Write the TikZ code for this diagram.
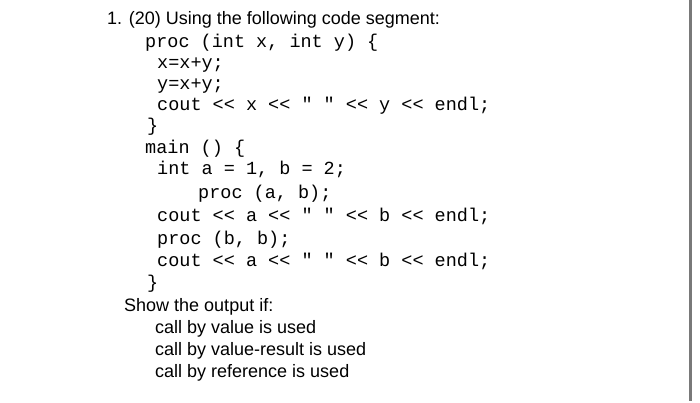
\documentclass[tikz,border=0pt]{standalone}
\usepackage{fontspec}
\setmainfont{Liberation Sans}
\setmonofont{Liberation Mono}
\begin{document}
\begin{tikzpicture}[x=1pt,y=-1pt,
  prose/.style={anchor=base west,inner sep=0pt,font=\fontsize{18}{20}\selectfont},
  code/.style={anchor=base west,inner sep=0pt,font=\fontsize{18.5}{20}\ttfamily}]
\useasboundingbox (0,0) rectangle (700,403);
\fill[gray!95!black] (689,0) rectangle (692,401);
\node[prose] (t1) at (107,25) {1. (20) Using the following code segment:};
\node[code] (c1) at (145,48) {proc (int x, int y) \{};
\node[code] (c2) at (157,69) {x=x+y;};
\node[code] (c3) at (157,90) {y=x+y;};
\node[code] (c4) at (157,111) {cout << x << "{} " << y << endl;};
\node[code] (c5) at (147,132) {\}};
\node[code] (c6) at (145,154) {main () \{};
\node[code] (c7) at (157,175) {int a = 1, b = 2;};
\node[code] (c8) at (198,198) {proc (a, b);};
\node[code] (c9) at (157,221) {cout << a << "{} " << b << endl;};
\node[code] (c10) at (157,244) {proc (b, b);};
\node[code] (c11) at (157,266) {cout << a << "{} " << b << endl;};
\node[code] (c12) at (147,288) {\}};
\node[prose] (s1) at (124,311) {Show the output if:};
\node[prose] (s2) at (155,333) {call by value is used};
\node[prose] (s3) at (155,355) {call by value-result is used};
\node[prose] (s4) at (155,377) {call by reference is used};
\end{tikzpicture}
\end{document}
